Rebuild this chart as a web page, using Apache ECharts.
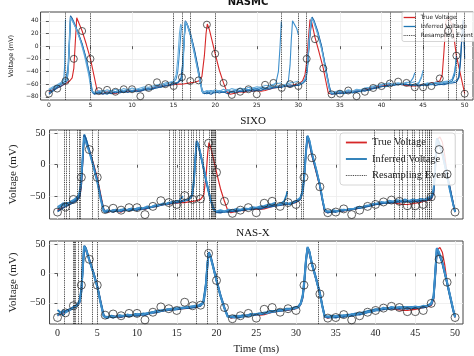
<!DOCTYPE html>
<html><head><meta charset="utf-8">
<script src="https://cdn.jsdelivr.net/npm/echarts@6/dist/echarts.min.js"></script>
<style>html,body{margin:0;padding:0;background:#fff}#c{width:474px;height:356px}</style>
</head><body><div id="c"></div>
<script>
// ---------- tick labels ----------
const xTicks = [0,5,10,15,20,25,30,35,40,45,50];
const yTicksTop = [-80,-60,-40,-20,0,20,40];
const yTicksLow = [-50,0,50];

// ---------- observations (circles) ----------
const obsTimes = [0,1,2,3,4,5,6,7,8,9,10,11,12,13,14,15,16,17,18,19,20,21,22,23,24,25,26,27,28,29,30,31,32,33,34,35,36,37,38,39,40,41,42,43,44,45,46,47,48,49,50];
const observations = [-75,-67,-55,-20,24,-20,-71,-69,-72,-68,-68,-79,-66,-57,-60,-63,-49,-55,-54,34,-12,-58,-77,-72,-68,-76,-61,-58,-66,-60,-63,-20,11,-35,-76,-75,-70,-79,-72,-66,-63,-59,-56,-58,-65,-65,-63,-51,24,-15,-75];

// ---------- true voltage [t, mV] ----------
const trueVoltage = [[0,-72],[0.5,-69],[1,-66],[1.5,-63],[2,-59],[2.5,-55],[2.8,-50],[3.0,-35],[3.15,0],[3.35,45],[3.55,42],[4,24],[4.5,3],[5,-20],[5.4,-45],[5.8,-70],[6,-74],[6.5,-75],[7,-72],[7.5,-74],[8,-75],[8.5,-72],[9,-72],[9.5,-71],[10,-71],[10.5,-70],[11,-71],[11.5,-68],[12,-67],[12.5,-66],[13,-64],[13.5,-63],[14,-63],[14.5,-61],[15,-61],[15.5,-60],[16,-60],[16.5,-59],[17,-58],[17.5,-57],[18,-55],[18.4,-48],[18.7,-15],[18.9,20],[19.05,35],[19.3,26],[19.6,10],[20,-12],[20.5,-38],[21,-58],[21.4,-72],[21.8,-76],[22.5,-74],[23,-72],[23.5,-73],[24,-70],[24.5,-71],[25,-70],[25.5,-71],[26,-70],[26.5,-68],[27,-66],[27.5,-65],[28,-64],[28.5,-63],[29,-63],[29.5,-61],[30,-60],[30.5,-55],[30.8,-45],[31,-25],[31.2,10],[31.4,42],[31.6,38],[32,14],[32.5,-10],[33,-35],[33.3,-55],[33.6,-74],[34,-76],[34.5,-74],[35,-74],[35.5,-73],[36,-73],[36.5,-72],[37,-71],[37.5,-70],[38,-69],[38.5,-67],[39,-66],[39.5,-64],[40,-63],[40.5,-62],[41,-61],[41.5,-60],[42,-60],[42.5,-61],[43,-62],[43.5,-63],[44,-63],[44.5,-62],[45,-61],[45.5,-60],[46,-58],[46.5,-57],[47,-55],[47.3,-45],[47.5,-10],[47.75,40],[48.1,44],[48.4,36],[48.7,15],[49,-15],[49.5,-45],[50,-75]];

// ---------- NASMC particles ----------
const nasmcP1 = [[0,-76],[0.5,-71],[1,-66],[1.5,-63],[2,-58],[2.2,-54],[2.35,-35],[2.45,0],[2.6,48],[2.8,44],[3.2,32],[3.6,18],[4,4],[4.5,-20],[4.9,-45],[5.2,-72],[5.5,-76],[6,-74],[6.5,-76],[7,-73],[7.5,-75],[8,-72],[8.5,-74],[9,-71],[9.5,-73],[10,-70],[10.5,-72],[11,-71],[11.5,-69],[12,-69],[12.5,-67],[13,-66],[13.5,-64],[14,-63],[14.5,-62],[15,-60],[15.5,-58],[15.9,-53],[16.1,-30],[16.25,5],[16.4,40],[16.6,36],[17,22],[17.5,-5],[18,-38],[18.4,-68],[18.7,-75],[19,-73],[19.5,-76],[20,-72],[20.5,-74],[21,-72],[21.5,-75],[22,-71],[22.5,-73],[23,-71],[23.5,-72],[24,-69],[24.5,-71],[25,-69],[25.5,-70],[26,-67],[26.5,-68],[27,-66],[27.5,-65],[28,-65],[28.5,-63],[29,-64],[29.5,-62],[30,-62],[30.5,-59],[30.9,-54],[31.1,-35],[31.3,5],[31.65,46],[31.9,40],[32.3,25],[32.8,0],[33.3,-35],[33.7,-62],[34,-76],[34.5,-74],[35,-75],[35.5,-73],[36,-74],[36.5,-72],[37,-73],[37.5,-70],[38,-71],[38.5,-68],[39,-67],[39.5,-66],[40,-64],[40.5,-63],[41,-61],[41.5,-62],[42,-60],[42.5,-61],[43,-60],[43.5,-62],[44,-61],[44.5,-63],[45,-61],[45.5,-62],[46,-60],[46.5,-62],[47,-60],[47.5,-61],[48,-59],[48.5,-58],[49,-57],[49.3,-50],[49.5,-25],[49.65,15],[49.8,42],[49.9,20],[50,-20]];
const nasmcP2 = [[0,-74],[0.5,-69],[1,-64],[1.5,-60],[2,-55],[2.2,-52],[2.35,-30],[2.5,10],[2.62,46],[2.85,43],[3.3,28],[3.8,10],[4.3,-12],[4.8,-40],[5.1,-68],[5.4,-75],[6,-73],[6.5,-74],[7,-76],[7.5,-72],[8,-74],[8.5,-71],[9,-73],[9.5,-70],[10,-72],[10.5,-69],[11,-70],[11.5,-68],[12,-66],[12.5,-68],[13,-64],[13.5,-65],[14,-62],[14.5,-61],[15,-59],[15.5,-57],[15.9,-50],[16.1,-25],[16.3,15],[16.45,38],[16.7,32],[17.2,10],[17.7,-20],[18.2,-55],[18.5,-74],[19,-75],[19.5,-72],[20,-74],[20.5,-71],[21,-73],[21.5,-70],[22,-73],[22.5,-70],[23,-72],[23.5,-69],[24,-71],[24.5,-68],[25,-70],[25.5,-67],[26,-68],[26.5,-66],[27,-65],[27.5,-63],[28,-63],[28.5,-62],[29,-61],[29.5,-63],[30,-60],[30.5,-58],[30.9,-50],[31.15,-25],[31.35,15],[31.6,44],[31.85,40],[32.3,22],[32.8,-2],[33.3,-38],[33.7,-66],[34,-75],[34.5,-76],[35,-73],[35.5,-75],[36,-72],[36.5,-74],[37,-71],[37.5,-72],[38,-69],[38.5,-70],[39,-66],[39.5,-65],[40,-63],[40.5,-64],[41,-62],[41.5,-60],[42,-61],[42.5,-59],[43,-61],[43.5,-60],[44,-62],[44.5,-61],[45,-62],[45.5,-60],[46,-61],[46.5,-59],[47,-61],[47.5,-59],[48,-58],[48.5,-55],[48.8,-45],[49,-15],null,[49,-56],[49.3,-48],[49.5,-20],[49.7,20],[49.85,40],[50,-5]];
const nasmcP3 = [[0,-70],[0.5,-66],[1,-62],[1.5,-58],[1.8,-52],[1.9,-30],[1.95,10],[2,42],null,[2,-57],[2.2,-50],[2.35,-20],[2.5,25],[2.6,45],[2.9,40],[3.4,24],[4,2],[4.5,-22],[5,-55],[5.3,-74],[6,-72],[6.5,-70],[7,-73],[7.5,-70],[8,-72],[8.5,-69],[9,-71],[9.5,-68],[10,-70],[10.5,-68],[11,-69],[11.5,-66],[12,-68],[12.5,-65],[13,-63],[13.5,-62],[14,-60],[14.5,-58],[15,-57],[15.3,-52],[15.5,-40],[15.7,-10],[15.9,25],[16,30],null,[16,-55],[16.1,-35],[16.3,20],[16.4,38],[16.6,34],[17,18],[17.5,-12],[18,-45],[18.4,-72],[19,-72],[19.5,-70],[20,-73],[20.5,-70],[21,-72],[21.5,-69],[22,-72],[22.5,-68],[23,-70],[23.5,-67],[24,-69],[24.5,-66],[25,-67],[25.5,-65],[26,-66],[26.5,-64],[27,-62],[27.3,-58],[27.6,-40],[27.8,0],[27.95,39],[28,30],null,[28,-64],[28.5,-62],[28.8,-55],[29,-30],[29.15,10],[29.3,40],[29.5,38],[29.8,28],[30,18],null,[30,-62],[30.5,-58],[30.9,-52],[31.1,-30],[31.3,10],[31.6,45],[31.9,38],[32.4,18],[33,-15],[33.5,-50],[33.9,-75],[34.5,-73],[35,-71],[35.5,-73],[36,-70],[36.5,-72],[37,-69],[37.5,-70],[38,-67],[38.5,-66],[39,-64],[39.5,-62],[40,-61],[40.5,-60],[41,-59],[41.5,-61],[42,-59],[42.5,-60],[43,-58],[43.5,-56],[43.8,-50],[44,-42],null,[44,-62],[44.5,-58],[44.8,-50],[45,-38],null,[45,-61],[45.5,-59],[46,-60],[46.5,-58],[47,-59],[47.5,-57],[48,-56],[48.5,-52],[48.8,-40],[49,-20]];
const nasmcP4 = [[0,-68],[0.5,-64],[1,-61],[1.5,-57],[2,-52],null,[2,-58],[2.3,-42],[2.45,0],[2.58,46],[2.8,43],[3.3,27],[3.8,8],[4.3,-16],[4.8,-46],[5.1,-70],[5.5,-73],[6,-70],[6.5,-72],[7,-69],[7.5,-71],[8,-68],[8.5,-70],[9,-67],[9.5,-69],[10,-66],[10.5,-68],[11,-66],[11.5,-64],[12,-65],[12.5,-63],[13,-61],[13.5,-60],[14,-58],[14.5,-57],[15,-55],[15.3,-45],[15.5,-20],[15.7,20],[15.85,35],[16,30],null,[16,-58],[16.15,-30],[16.3,20],[16.42,39],[16.65,34],[17.1,15],[17.6,-18],[18.1,-50],[18.5,-73],[19,-70],[19.5,-72],[20,-69],[20.5,-71],[21,-68],[21.5,-70],[22,-67],[22.5,-69],[23,-66],[23.5,-68],[24,-65],[24.5,-66],[25,-64],[25.5,-65],[26,-62],[26.5,-62],[27,-60],[27.5,-59],[28,-58],null,[28,-62],[28.5,-60],[29,-58],[29.5,-57],[30,-55],null,[30,-60],[30.5,-57],[30.9,-50],[31.1,-28],[31.3,12],[31.55,44],[31.8,40],[32.3,20],[32.8,-5],[33.3,-40],[33.8,-73],[34.3,-72],[35,-70],[35.5,-72],[36,-69],[36.5,-71],[37,-68],[37.5,-69],[38,-66],[38.5,-65],[39,-63],[39.5,-62],[40,-60],[40.5,-59],[41,-58],null,[41,-61],[41.5,-59],[42,-58],[42.5,-59],[43,-57],[43.5,-58],[44,-56],null,[44,-61],[44.5,-57],[44.8,-48],[45,-40],null,[45,-60],[45.5,-58],[46,-59],[46.5,-57],[47,-58],[47.5,-56],[48,-55],null,[48,-60],[48.5,-57],[49,-54]];

// ---------- SIXO particles ----------
const sixoP1 = [[0,-74],[0.5,-70],[1,-66],[1.5,-63],[2,-60],[2.5,-56],[2.8,-50],[3.0,-30],[3.15,5],[3.35,47],[3.55,42],[4,22],[4.5,0],[5,-25],[5.4,-50],[5.8,-73],[6.2,-75],[6.5,-73],[7,-75],[7.5,-72],[8,-74],[8.5,-71],[9,-73],[9.5,-70],[10,-72],[10.5,-69],[11,-70],[11.5,-67],[12,-67],[12.5,-65],[13,-64],[13.5,-62],[14,-62],[14.5,-60],[15,-60],[15.5,-58],[16,-57],[16.5,-55],[16.9,-50],[17.1,-35],[17.3,0],[17.5,38],[17.7,32],[18.2,5],[18.7,-25],[19.2,-52],[19.6,-68],[19.9,-75],[20.5,-76],[21,-74],[21.5,-75],[22,-73],[22.5,-74],[23,-72],[23.5,-72],[24,-70],[24.5,-71],[25,-69],[25.5,-70],[26,-68],[26.5,-67],[27,-66],[27.5,-65],[28,-64],[28.5,-63],[29,-62],[29.5,-61],[30,-59],[30.5,-55],[30.8,-45],[31,-25],[31.2,10],[31.4,45],[31.6,40],[32,16],[32.5,-8],[33,-33],[33.3,-55],[33.6,-73],[34,-76],[34.5,-74],[35,-75],[35.5,-73],[36,-73],[36.5,-71],[37,-71],[37.5,-69],[38,-69],[38.5,-67],[39,-66],[39.5,-64],[40,-63],[40.5,-62],[41,-61],[41.5,-60],[42,-60],[42.5,-59],[43,-59],[43.5,-58],[44,-58],[44.5,-58],[45,-58],[45.5,-57],[46,-57],[46.5,-56],[47,-54],[47.3,-45],[47.5,-10],[47.7,40],[47.9,38],[48.3,22],[48.8,-5],[49.3,-35],[49.7,-58],[50,-75]];
const sixoP2 = [[0,-70],[0.5,-66],[1,-61],[1.5,-60],[2,-57],[2.5,-53],[2.8,-45],[3.0,-25],[3.2,15],[3.38,48],[3.6,40],[4.1,18],[4.6,-5],[5.1,-30],[5.5,-56],[5.9,-75],[6.5,-74],[7,-72],[7.5,-74],[8,-71],[8.5,-73],[9,-70],[9.5,-72],[10,-69],[10.5,-71],[11,-68],[11.5,-69],[12,-66],[12.5,-66],[13,-63],[13.5,-63],[14,-60],[14.5,-61],[15,-58],[15.5,-59],[16,-56],[16.5,-56],[16.9,-48],[17.1,-30],[17.3,5],[17.5,37],[17.7,31],[18.2,4],[18.7,-27],[19.2,-54],[19.6,-70],[20,-75],[20.5,-73],[21,-75],[21.5,-72],[22,-74],[22.5,-71],[23,-73],[23.5,-70],[24,-71],[24.5,-68],[25,-69],[25.5,-67],[26,-67],[26.5,-65],[27,-64],[27.4,-62],null,[27.4,-65],[28,-62],[28.5,-58],[28.8,-48],[28.9,-42],null,[28.9,-63],[29.5,-62],[30,-58],[30.5,-54],[30.8,-42],[31,-20],[31.2,15],[31.45,46],[31.65,40],[32,18],[32.5,-6],[33,-32],[33.3,-53],[33.6,-72],[34,-74],[34.5,-75],[35,-73],[35.5,-74],[36,-71],[36.5,-72],[37,-70],[37.5,-70],[38,-67],[38.5,-68],[39,-65],[39.5,-65],[40,-62],[40.5,-63],[41,-60],[41.5,-61],[42,-59],[42.5,-60],[43,-57],[43.5,-59],[44,-57],[44.5,-59],[45,-56],[45.5,-58],[46,-56],[46.5,-55],[47,-52],[47.3,-40],[47.5,-5],[47.72,42],[47.95,37],[48.4,20],[48.9,-8],[49.4,-40],[49.8,-64],[50,-74]];
const sixoP3 = [[0,-67],[0.5,-63],[0.8,-60],null,[0.8,-66],[1,-64],[1.4,-61],[1.7,-58],[2,-56],[2.4,-52],[2.7,-47],[2.9,-33],[3.1,0],[3.3,44],[3.5,43],[4,20],[4.5,-3],[5,-28],[5.4,-54],[5.8,-74],[6.3,-72],[6.8,-74],[7.3,-71],[7.8,-73],[8.3,-70],[8.8,-72],[9.3,-69],[9.8,-71],[10.3,-68],[10.8,-69],[11.3,-66],[11.8,-67],[12.3,-64],[12.8,-64],[13.3,-61],[13.8,-62],[14.3,-59],[14.8,-58],[15.3,-57],[15.6,-52],[15.8,-50],null,[15.8,-58],[16.2,-56],[16.6,-54],[17,-46],[17.2,-20],[17.4,20],[17.55,37],[17.8,28],[18.3,0],[18.8,-30],[19.3,-58],[19.7,-72],[20,-74],[20.5,-72],[21,-74],[21.5,-71],[22,-72],[22.5,-70],[23,-71],[23.5,-69],[24,-70],[24.5,-67],[25,-68],[25.5,-66],[26,-65],[26.5,-63],[27,-62],[27.4,-60],null,[27.4,-64],[28,-63],[28.5,-61],[28.9,-60],null,[28.9,-62],[29.5,-60],[30,-57],[30.6,-52],[30.9,-40],[31.1,-10],[31.3,25],[31.45,45],[31.7,38],[32.1,14],[32.6,-10],[33.1,-38],[33.4,-60],[33.7,-74],[34.2,-74],[34.7,-72],[35.2,-74],[35.7,-71],[36.2,-72],[36.7,-70],[37.2,-70],[37.7,-67],[38.2,-68],[38.7,-65],[39.2,-64],[39.7,-62],[40.2,-61],[40.7,-59],[41.2,-60],[41.7,-57],[42.2,-58],[42.7,-56],[43.2,-57],[43.7,-55],[44.2,-57],[44.7,-55],[45.2,-56],[45.7,-54],[46.2,-55],[46.6,-52],[47,-50],[47.3,-38],[47.5,0],[47.68,40],[47.9,38],[48.3,22],[48.8,-6],[49.3,-38],[49.7,-60],[50,-75]];

// ---------- NAS-X particles ----------
const nasxP1 = [[0,-70],[0.5,-66],[1,-64],[1.5,-61],[2,-58],[2.5,-54],[2.8,-47],[3.0,-30],[3.15,5],[3.35,47],[3.55,43],[4,23],[4.5,2],[5,-22],[5.4,-48],[5.8,-72],[6.2,-76],[6.6,-74],[7,-75],[7.5,-73],[8,-74],[8.5,-72],[9,-73],[9.5,-71],[10,-72],[10.5,-70],[11,-71],[11.5,-68],[12,-67],[12.5,-66],[13,-64],[13.5,-63],[14,-62],[14.5,-62],[15,-61],[15.5,-60],[16,-59],[16.5,-59],[17,-58],[17.5,-57],[18,-55],[18.4,-48],[18.7,-15],[18.9,20],[19.05,36],[19.3,27],[19.6,11],[20,-11],[20.5,-37],[21,-58],[21.4,-72],[21.8,-75],[22.3,-74],[22.8,-75],[23.3,-73],[23.8,-73],[24.3,-71],[24.8,-71],[25.3,-69],[25.8,-69],[26.3,-67],[26.8,-66],[27.3,-65],[27.8,-64],[28.3,-63],[28.8,-62],[29.3,-61],[29.8,-60],[30.3,-57],[30.6,-52],[30.85,-40],[31.05,-15],[31.25,20],[31.45,43],[31.65,38],[32,16],[32.5,-8],[33,-34],[33.3,-55],[33.6,-73],[34,-75],[34.5,-74],[35,-75],[35.5,-73],[36,-74],[36.5,-72],[37,-72],[37.5,-70],[38,-70],[38.5,-68],[39,-66],[39.5,-65],[40,-63],[40.5,-62],[41,-61],[41.5,-60],[42,-60],[42.5,-59],[43,-60],[43.5,-59],[44,-60],[44.5,-59],[45,-59],[45.5,-58],[46,-58],[46.5,-56],[47,-53],[47.3,-42],[47.5,-5],[47.72,42],[47.95,36],[48.4,18],[48.9,-10],[49.4,-40],[49.8,-64],[50,-74]];
const nasxP2 = [[0,-62],[0.4,-67],[0.8,-72],null,[0.8,-66],[1.2,-63],[1.6,-61],[2,-57],[2.5,-53],[2.8,-45],[3.0,-26],[3.2,12],[3.4,46],[3.6,41],[4.05,21],[4.55,0],[5.05,-24],[5.45,-50],[5.85,-73],[6.3,-74],[6.8,-72],[7.3,-74],[7.8,-71],[8.3,-73],[8.8,-70],[9.3,-72],[9.8,-69],[10.3,-70],[10.8,-68],[11.3,-69],[11.8,-66],[12.3,-65],[12.8,-63],[13.3,-63],[13.8,-61],[14.3,-61],[14.8,-59],[15.3,-60],[15.8,-58],[16.3,-58],[16.8,-56],[17.3,-56],[17.8,-54],[18.3,-50],[18.65,-20],[18.85,15],[19.0,34],[19.25,28],[19.6,10],[20,-13],[20.5,-39],[21,-60],[21.4,-73],[21.8,-74],[22.3,-72],[22.8,-73],[23.3,-71],[23.8,-72],[24.3,-69],[24.8,-70],[25.3,-68],[25.8,-67],[26.3,-66],[26.8,-64],[27.3,-64],[27.8,-62],[28.3,-62],[28.8,-60],[29.3,-60],[29.8,-58],[30.3,-56],[30.6,-50],[30.85,-36],[31.05,-10],[31.25,24],[31.45,44],[31.65,39],[32,17],[32.5,-7],[33,-33],[33.3,-54],[33.6,-72],[34,-74],[34.5,-72],[35,-73],[35.5,-71],[36,-72],[36.5,-70],[37,-70],[37.5,-68],[38,-68],[38.5,-66],[39,-64],[39.5,-63],[40,-61],[40.5,-61],[41,-59],[41.5,-59],[42,-58],[42.5,-58],[43,-58],[43.5,-57],[44,-58],[44.5,-57],[45,-57],[45.5,-57],[46,-56],[46.5,-55],[47,-51],[47.3,-38],[47.5,0],[47.7,41],[47.92,38],[48.35,20],[48.85,-8],[49.35,-38],[49.75,-62],[50,-73]];
const nasxP3 = [[0,-72],[0.4,-67],[0.8,-62],null,[0.8,-68],[1.2,-65],[1.6,-62],[2,-59],[2.5,-55],[2.8,-49],[3.0,-32],[3.15,0],[3.33,46],[3.55,42],[4,22],[4.5,1],[5,-23],[5.4,-49],[5.8,-73],[6.3,-75],[6.8,-73],[7.3,-74],[7.8,-72],[8.3,-72],[8.8,-70],[9.3,-71],[9.8,-70],[10.3,-69],[10.8,-70],[11.3,-67],[11.8,-68],[12.3,-64],[12.8,-65],[13.3,-62],[13.8,-62],[14.3,-60],[14.8,-61],[15.3,-58],[15.8,-59],[16.3,-57],[16.8,-57],[17.3,-55],[17.8,-55],[18.3,-52],[18.6,-30],[18.8,5],[19.0,35],[19.2,30],[19.6,9],[20,-12],[20.5,-38],[21,-59],[21.4,-74],[21.8,-73],[22.3,-75],[22.8,-72],[23.3,-74],[23.8,-71],[24.3,-72],[24.8,-69],[25.3,-70],[25.8,-67],[26.3,-68],[26.8,-65],[27.3,-65],[27.8,-63],[28.3,-63],[28.8,-61],[29.3,-61],[29.8,-59],[30.3,-58],[30.6,-51],[30.85,-38],[31.05,-12],[31.25,22],[31.45,45],[31.65,38],[32,15],[32.5,-9],[33,-35],[33.3,-56],[33.6,-74],[34,-73],[34.5,-75],[35,-72],[35.5,-74],[36,-71],[36.5,-73],[37,-69],[37.5,-71],[38,-67],[38.5,-69],[39,-65],[39.5,-66],[40,-62],[40.5,-63],[41,-58],[41.5,-61],[42,-57],[42.5,-60],[43,-57],[43.5,-60],[44,-57],[44.5,-58],[45,-56],[45.5,-58],[46,-55],[46.5,-56],[47,-52],[47.3,-40],[47.5,-2],[47.7,43],[47.95,37],[48.4,19],[48.9,-9],[49.4,-39],[49.8,-63],[50,-75]];

// ---------- resampling events (ms) ----------
const nasmcResample = [2,5,15,16,17,20,28,30,31,41,44,45,48,49,50];
const sixoResample = [0.8,1.1,1.45,2.45,2.7,2.9,4.4,5.1,14.1,14.5,14.8,15.3,15.6,16.0,16.4,16.8,17.1,17.4,17.8,18.35,19.05,19.3,19.4,19.5,19.6,19.7,19.8,19.9,27.4,28.9,30.0,30.6,30.9,39.9,42.4,43.0,43.3,44.0,44.6,44.9,45.5,45.9,46.2,46.5,46.7,46.8,47.0];
const nasxResample = [0.83,1.94,2.1,2.27,2.64,2.97,4.42,5.03,17.5,18.85,20.1,32.8];

// ---------- panels ----------
const panelTitles = ['NASMC','SIXO','NAS-X'];
const legendNames = ['True Voltage','Inferred Voltage','Resampling Event'];

const RED = '#d62728';
const BLUES = ['#1f77b4','#1a5a9a','#3d8fcc','#6aaedc'];
const SANS = 'DejaVu Sans';
const SERIF = 'Liberation Serif';

const panels = [
  {particles:[nasmcP2,nasmcP1,nasmcP3,nasmcP4], resample:nasmcResample, yTicks:yTicksTop, ymin:-85, ymax:54, split:7,
   grid:{left:22, top:12, width:451, height:88}, font:SANS, fs:6, lw:1.1, circ:7},
  {particles:[sixoP2,sixoP1,sixoP3], resample:sixoResample, yTicks:yTicksLow, ymin:-86, ymax:55, split:3,
   grid:{left:43, top:130, width:420, height:89}, font:SERIF, fs:10, lw:1.7, circ:8},
  {particles:[nasxP2,nasxP1,nasxP3], resample:nasxResample, yTicks:yTicksLow, ymin:-86, ymax:55, split:3,
   grid:{left:43, top:241, width:420, height:89}, font:SERIF, fs:10, lw:1.9, circ:8}
];

const grids = [], xAxes = [], yAxes = [], series = [];
panels.forEach((p, i) => {
  grids.push(Object.assign({show:true, borderColor:'#444', borderWidth:1, containLabel:false}, p.grid));
  const isTop = i === 0, isBottom = i === 2;
  const showXLabels = isTop || isBottom;
  xAxes.push({
    type:'value', gridIndex:i, min:-1, max:51, splitNumber:10,
    axisLine:{show:false},
    axisTick:{show:true, length:3, customValues:xTicks, lineStyle:{color:'#333', width:0.8}},
    axisLabel:{show:showXLabels, customValues:xTicks, margin:isTop?2:4, fontSize:isTop?6:p.fs, fontFamily:p.font, color:'#222',
      formatter: v => xTicks.includes(v) ? String(v) : ''},
    splitLine:{show:true, lineStyle:{color:'#ececec', width:0.8}},
    name: isBottom ? 'Time (ms)' : '', nameLocation:'middle', nameGap:20,
    nameTextStyle:{fontFamily:SERIF, fontSize:11, color:'#222'}
  });
  yAxes.push({
    type:'value', gridIndex:i, min:p.ymin, max:p.ymax, splitNumber:p.split,
    axisLine:{show:false},
    axisTick:{show:true, length:3, customValues:p.yTicks, lineStyle:{color:'#333', width:0.8}},
    axisLabel:{show:true, customValues:p.yTicks, margin:isTop?2:4, fontSize:isTop?6:p.fs, fontFamily:p.font, color:'#222',
      formatter: v => p.yTicks.includes(v) ? (v < 0 ? '\u2212' + Math.abs(v) : String(v)) : ''},
    splitLine:{show:true, lineStyle:{color:'#ececec', width:0.8}},
    name:'Voltage (mV)', nameLocation:'middle', nameGap: isTop ? 17 : 29,
    nameTextStyle:{fontFamily:p.font, fontSize:isTop?6.5:11, color:'#222'}
  });

  // resampling events
  series.push({
    type:'line', name:'Resampling Event', xAxisIndex:i, yAxisIndex:i, data:[], symbol:'none',
    color:'#222', lineStyle:{type:'dotted', color:'#222', width:0.9},
    markLine:{symbol:'none', silent:true, animation:false, label:{show:false},
      lineStyle:{type:'dotted', color:'#222', width:0.9},
      data:p.resample.map(t => ({xAxis:t}))},
    z:1
  });
  // true voltage
  series.push({
    type:'line', name:'True Voltage', xAxisIndex:i, yAxisIndex:i, data:trueVoltage, symbol:'none',
    color:RED, lineStyle:{color:RED, width:isTop?1.1:1.2}, z:2, animation:false
  });
  // inferred particles
  p.particles.forEach((d, k) => {
    series.push({
      type:'line', name:'Inferred Voltage', xAxisIndex:i, yAxisIndex:i, data:d, symbol:'none', connectNulls:false,
      color:BLUES[k % BLUES.length], lineStyle:{color:BLUES[k % BLUES.length], width:p.lw}, z:3, animation:false
    });
  });
  // observations
  series.push({
    type:'scatter', xAxisIndex:i, yAxisIndex:i, data:obsTimes.map((t, k) => [t, observations[k]]),
    symbol:'circle', symbolSize:p.circ,
    itemStyle:{color:'rgba(0,0,0,0)', borderColor:'#222', borderWidth:0.9}, z:5, animation:false
  });
});

const hidden = {opacity:0, color:'rgba(0,0,0,0)', borderWidth:0};
const legendItems = (w) => [
  {name:legendNames[0], itemStyle:hidden, lineStyle:{color:RED, width:w}},
  {name:legendNames[1], itemStyle:hidden, lineStyle:{color:'#1f77b4', width:w}},
  {name:legendNames[2], itemStyle:hidden, lineStyle:{color:'#222', width:0.9, type:'dotted'}}
];

const option = {
  animation:false,
  backgroundColor:'#fff',
  title:[
    {text:panelTitles[0], left:248, top:-3, textAlign:'center', padding:0,
      textStyle:{fontFamily:SANS, fontWeight:'bold', fontSize:10, color:'#111'}},
    {text:panelTitles[1], left:253, top:116, textAlign:'center', padding:0,
      textStyle:{fontFamily:SERIF, fontWeight:'normal', fontSize:11, color:'#111'}},
    {text:panelTitles[2], left:253, top:228, textAlign:'center', padding:0,
      textStyle:{fontFamily:SERIF, fontWeight:'normal', fontSize:11, color:'#111'}}
  ],
  legend:[
    {orient:'vertical', left:402, top:12, padding:[2.5,4,3,1], itemWidth:12, itemHeight:6, itemGap:3,
      selectedMode:false, backgroundColor:'rgba(255,255,255,0.85)', borderColor:'#ccc', borderWidth:0.8, borderRadius:2,
      itemStyle:hidden,
      textStyle:{fontFamily:SANS, fontSize:5.8, color:'#222'}, data:legendItems(1.3)},
    {orient:'vertical', left:340, top:133, padding:[4,6,4,5], itemWidth:21, itemHeight:10, itemGap:5.5,
      selectedMode:false, backgroundColor:'rgba(255,255,255,0.85)', borderColor:'#ccc', borderWidth:0.8, borderRadius:3,
      itemStyle:hidden,
      textStyle:{fontFamily:SERIF, fontSize:10.5, color:'#222'}, data:legendItems(1.8)}
  ],
  grid:grids, xAxis:xAxes, yAxis:yAxes, series:series
};

const chart = echarts.init(document.getElementById('c'), null, {renderer:'canvas'});
chart.setOption(option);
</script>
</body></html>
